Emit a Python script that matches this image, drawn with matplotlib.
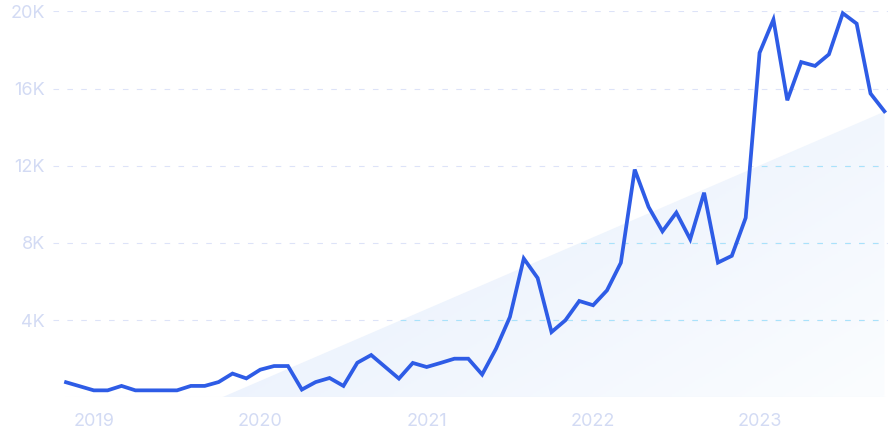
import numpy as np
import matplotlib
matplotlib.use("Agg")
from matplotlib import pyplot as plt
from matplotlib.patches import Polygon
from matplotlib.colors import LinearSegmentedColormap

plt.rcParams['font.family'] = ['Inter', 'DejaVu Sans']

# monthly values, Nov 2018 .. Oct 2023
months = np.arange(60)
values = [780, 570, 360, 360, 590, 360, 360, 360, 360, 590,
          590, 790, 1230, 980, 1430, 1620, 1620, 400, 790, 1000,
          590, 1790, 2190, 1580, 970, 1780, 1570, 1780, 2000, 2000,
          1180, 2520, 4160, 7190, 6180, 3380, 3990, 4990, 4770, 5540,
          6970, 11800, 9860, 8600, 9570, 8190, 10600, 6980, 7330, 9300,
          17850, 19570, 15390, 17370, 17170, 17770, 19900, 19360, 15740, 14820]
year_pos = [2, 14, 26, 38, 50]
year_labels = ['2019', '2020', '2021', '2022', '2023']
y_ticks = [4000, 8000, 12000, 16000, 20000]

# trend wedge behind the line
trend_x = [11.25, 59]
trend_y = [0, 14800]

line_color = '#2e5ce6'
label_color = '#d3dbf4'

fig = plt.figure(figsize=(8.88, 4.43), dpi=100)
ax = fig.add_axes([53 / 888, (443 - 397.3) / 443, 835 / 888, 386 / 443])
ax.set_xlim(-0.94, 59.26)
ax.set_ylim(0, 20000)

# gradient wedge, fading towards the lower right
tri = Polygon([(trend_x[0], trend_y[0]), (trend_x[1], trend_y[1]), (trend_x[1], 0)],
              closed=True, facecolor='none', edgecolor='none', transform=ax.transData)
ax.add_patch(tri)
gx, gy = np.meshgrid(np.linspace(0, 1, 200), np.linspace(0, 1, 200))
grad = 0.7 * gx + 0.5 * gy
cmap = LinearSegmentedColormap.from_list('fade', ['#e4edfc', '#fbfdff'])
im = ax.imshow(grad, cmap=cmap, extent=[trend_x[0], trend_x[1], 0, trend_y[1]],
               origin='upper', aspect='auto', zorder=1, vmin=0, vmax=1.2)
im.set_clip_path(tri)

# dashed grid, lavender outside wedge and cyan inside it
for t in y_ticks:
    ax.axhline(t, color='#dde3f8', lw=0.8, linestyle=(0, (5, 7.5)), zorder=2)
    h = ax.axhline(t, color='#a9e2fb', lw=0.8, linestyle=(0, (5, 7.5)), zorder=2.1)
    h.set_clip_path(tri)

ax.plot([0, 59], [0, 0], color='#f1f3f9', lw=0.8, zorder=2)
ax.plot(months, values, color=line_color, lw=2.7, zorder=3,
        solid_joinstyle='miter', clip_on=False)

for s in ax.spines.values():
    s.set_visible(False)
ax.set_yticks(y_ticks)
ax.set_yticklabels([f'{t // 1000}K' for t in y_ticks])
ax.set_xticks(year_pos)
ax.set_xticklabels(year_labels)
ax.tick_params(axis='both', length=0, labelsize=13, labelcolor=label_color)
ax.tick_params(axis='y', pad=6)
ax.tick_params(axis='x', pad=11)

plt.savefig('out.png', dpi=100)
